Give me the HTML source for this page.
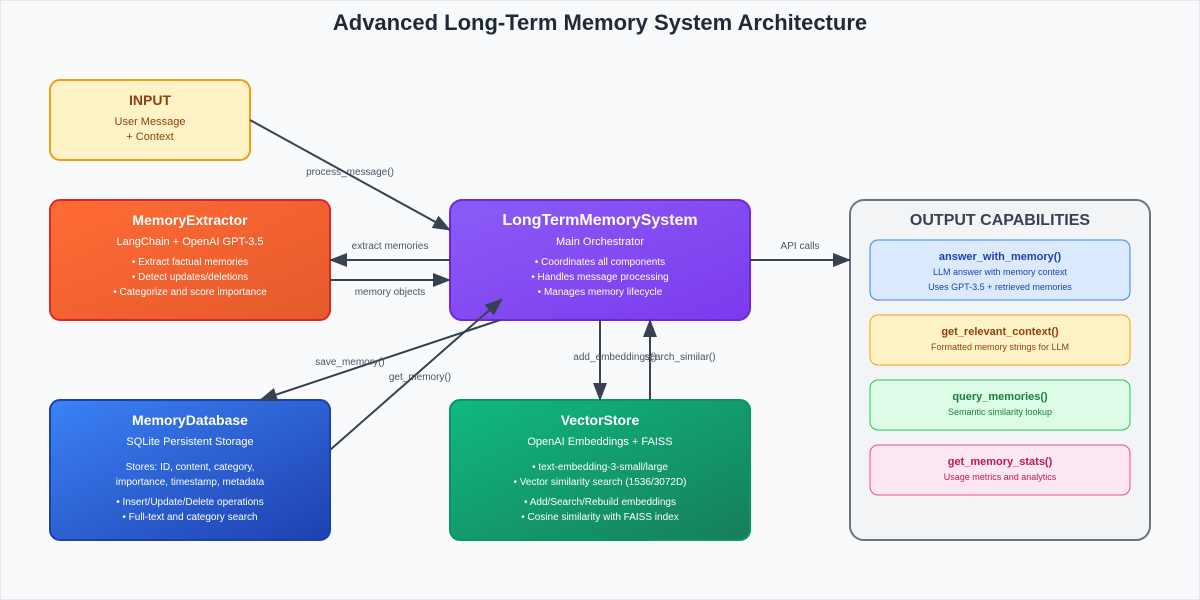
<!DOCTYPE html>
<html><head><meta charset="utf-8"><style>
html,body{margin:0;padding:0;background:#f8fafc;}
svg{display:block;font-family:"Liberation Sans",Arial,sans-serif;}
</style></head><body>
<svg width="1200" height="600" viewBox="0 0 1200 600" xmlns="http://www.w3.org/2000/svg">
<defs>
<linearGradient id="go" x1="0" y1="0" x2="1" y2="1"><stop offset="0" stop-color="#ff6b35"/><stop offset="1" stop-color="#e55a2b"/></linearGradient>
<linearGradient id="gp" x1="0" y1="0" x2="1" y2="1"><stop offset="0" stop-color="#8b5cf6"/><stop offset="1" stop-color="#7c3aed"/></linearGradient>
<linearGradient id="gb" x1="0" y1="0" x2="1" y2="1"><stop offset="0" stop-color="#3b82f6"/><stop offset="1" stop-color="#1e40af"/></linearGradient>
<linearGradient id="gg" x1="0" y1="0" x2="1" y2="1"><stop offset="0" stop-color="#10b981"/><stop offset="1" stop-color="#167e5a"/></linearGradient>
<marker id="ah" markerWidth="10" markerHeight="8" refX="9" refY="4" orient="auto" markerUnits="userSpaceOnUse"><polygon points="0,0 10,4 0,8" fill="#374151"/><polygon points="0,0 18,7 0,14" fill="#374151" transform="scale(0)"/></marker>
<marker id="a" markerWidth="18" markerHeight="14" refX="17" refY="7" orient="auto" markerUnits="userSpaceOnUse"><polygon points="0,0 18,7 0,14" fill="#374151"/></marker>
</defs>
<rect x="0.5" y="0.5" width="1199" height="599" fill="#f8fafc" stroke="#e5e7eb"/>
<text x="600" y="30" text-anchor="middle" font-size="22" font-weight="bold" fill="#1f2937">Advanced Long-Term Memory System Architecture</text>

<!-- INPUT -->
<rect x="50" y="80" width="200" height="80" rx="10" fill="#fef3c7" stroke="#f59e0b" stroke-width="2"/>
<text x="150" y="105" text-anchor="middle" font-size="14" font-weight="bold" fill="#92400e">INPUT</text>
<text x="150" y="125" text-anchor="middle" font-size="11" fill="#92400e">User Message</text>
<text x="150" y="140" text-anchor="middle" font-size="11" fill="#92400e">+ Context</text>

<!-- MemoryExtractor -->
<rect x="50" y="200" width="280" height="120" rx="10" fill="url(#go)" stroke="#dc2626" stroke-width="2"/>
<text x="190" y="225" text-anchor="middle" font-size="14" font-weight="bold" fill="#fff">MemoryExtractor</text>
<text x="190" y="245" text-anchor="middle" font-size="11" fill="#fff">LangChain + OpenAI GPT-3.5</text>
<g font-size="10" fill="#fff" text-anchor="middle">
<text x="190" y="265">• Extract factual memories</text>
<text x="190" y="280">• Detect updates/deletions</text>
<text x="190" y="295">• Categorize and score importance</text></g>

<!-- LTMS -->
<rect x="450" y="200" width="300" height="120" rx="12" fill="url(#gp)" stroke="#6d28d9" stroke-width="2"/>
<text x="600" y="225" text-anchor="middle" font-size="16" font-weight="bold" fill="#fff">LongTermMemorySystem</text>
<text x="600" y="245" text-anchor="middle" font-size="11" fill="#fff">Main Orchestrator</text>
<g font-size="10" fill="#fff" text-anchor="middle">
<text x="600" y="265">• Coordinates all components</text>
<text x="600" y="280">• Handles message processing</text>
<text x="600" y="295">• Manages memory lifecycle</text></g>

<!-- MemoryDatabase -->
<rect x="50" y="400" width="280" height="140" rx="10" fill="url(#gb)" stroke="#1e40af" stroke-width="2"/>
<text x="190" y="425" text-anchor="middle" font-size="14" font-weight="bold" fill="#fff">MemoryDatabase</text>
<text x="190" y="445" text-anchor="middle" font-size="11" fill="#fff">SQLite Persistent Storage</text>
<g font-size="10" fill="#fff" text-anchor="middle">
<text x="190" y="470">Stores: ID, content, category,</text>
<text x="190" y="485">importance, timestamp, metadata</text>
<text x="190" y="505">• Insert/Update/Delete operations</text>
<text x="190" y="520">• Full-text and category search</text></g>

<!-- VectorStore -->
<rect x="450" y="400" width="300" height="140" rx="10" fill="url(#gg)" stroke="#059669" stroke-width="2"/>
<text x="600" y="425" text-anchor="middle" font-size="14" font-weight="bold" fill="#fff">VectorStore</text>
<text x="600" y="445" text-anchor="middle" font-size="11" fill="#fff">OpenAI Embeddings + FAISS</text>
<g font-size="10" fill="#fff" text-anchor="middle">
<text x="600" y="470">• text-embedding-3-small/large</text>
<text x="600" y="485">• Vector similarity search (1536/3072D)</text>
<text x="600" y="505">• Add/Search/Rebuild embeddings</text>
<text x="600" y="520">• Cosine similarity with FAISS index</text></g>

<!-- Output -->
<rect x="850" y="200" width="300" height="340" rx="14" fill="#f3f4f6" stroke="#6b7280" stroke-width="2"/>
<text x="1000" y="225" text-anchor="middle" font-size="16" font-weight="bold" fill="#374151">OUTPUT CAPABILITIES</text>
<rect x="870" y="240" width="260" height="60" rx="8" fill="#dbeafe" stroke="#3b82f6"/>
<text x="1000" y="260" text-anchor="middle" font-size="11" font-weight="bold" fill="#1e40af">answer_with_memory()</text>
<text x="1000" y="275" text-anchor="middle" font-size="9" fill="#1e40af">LLM answer with memory context</text>
<text x="1000" y="290" text-anchor="middle" font-size="9" fill="#1e40af">Uses GPT-3.5 + retrieved memories</text>
<rect x="870" y="315" width="260" height="50" rx="8" fill="#fef3c7" stroke="#f59e0b"/>
<text x="1000" y="335" text-anchor="middle" font-size="11" font-weight="bold" fill="#92400e">get_relevant_context()</text>
<text x="1000" y="350" text-anchor="middle" font-size="9" fill="#92400e">Formatted memory strings for LLM</text>
<rect x="870" y="380" width="260" height="50" rx="8" fill="#dcfce7" stroke="#22c55e"/>
<text x="1000" y="400" text-anchor="middle" font-size="11" font-weight="bold" fill="#15803d">query_memories()</text>
<text x="1000" y="415" text-anchor="middle" font-size="9" fill="#15803d">Semantic similarity lookup</text>
<rect x="870" y="445" width="260" height="50" rx="8" fill="#fce7f3" stroke="#ec4899"/>
<text x="1000" y="465" text-anchor="middle" font-size="11" font-weight="bold" fill="#be185d">get_memory_stats()</text>
<text x="1000" y="480" text-anchor="middle" font-size="9" fill="#be185d">Usage metrics and analytics</text>

<!-- Arrows -->
<g stroke="#374151" stroke-width="2" fill="none" marker-end="url(#a)">
<line x1="250" y1="120" x2="450" y2="230"/>
<line x1="450" y1="260" x2="330" y2="260"/>
<line x1="330" y1="280" x2="450" y2="280"/>
<line x1="500" y1="320" x2="260" y2="400"/>
<line x1="330" y1="450" x2="502" y2="299"/>
<line x1="600" y1="320" x2="600" y2="400"/>
<line x1="650" y1="400" x2="650" y2="320"/>
<line x1="750" y1="260" x2="850" y2="260"/>
</g>
<g font-size="10" fill="#4b5563" text-anchor="middle">
<text x="350" y="175">process_message()</text>
<text x="390" y="249">extract memories</text>
<text x="390" y="295">memory objects</text>
<text x="350" y="365">save_memory()</text>
<text x="420" y="380">get_memory()</text>
<text x="615" y="360">add_embeddings()</text>
<text x="680" y="360">search_similar()</text>
<text x="800" y="249">API calls</text>
</g>
</svg>
</body></html>
